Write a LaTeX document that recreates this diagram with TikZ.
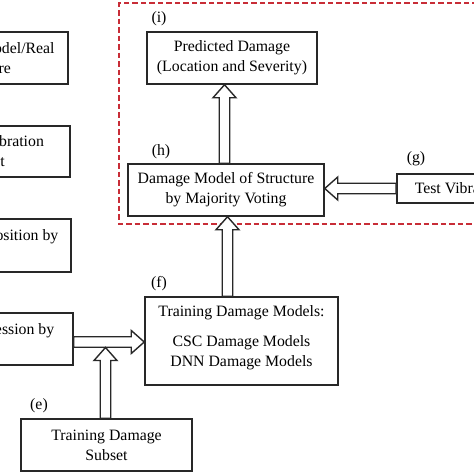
\documentclass[tikz,border=0pt]{standalone}
\usepackage{fontspec}
\setmainfont{Liberation Serif}
\usetikzlibrary{calc}
\definecolor{boxline}{RGB}{40,40,40}
\definecolor{dashred}{RGB}{200,45,55}
\tikzset{
  txt/.style={font=\fontsize{15.8}{20}\selectfont, text=black},
  box/.style={txt, draw=boxline, line width=1.5pt, align=center, inner sep=0pt, fill=white},
  lbl/.style={txt, inner sep=0pt},
  hollow/.style={draw=boxline, line width=1.4pt, fill=white, line join=miter},
  dashframe/.style={draw=dashred, line width=1.6pt, dash pattern=on 5.5pt off 3pt},
}
\newcommand\blockarrow[2]{%
  \path ($(#2)!13pt!(#1)$) coordinate (bahead);
  \draw[hollow] ($(#1)!5.25pt!90:(#2)$) -- ($(bahead)!5.25pt!90:(#2)$)
    -- ($(bahead)!11.5pt!90:(#2)$) -- (#2) -- ($(bahead)!11.5pt!-90:(#2)$)
    -- ($(bahead)!5.25pt!-90:(#2)$) -- ($(#1)!5.25pt!-90:(#2)$) -- cycle;
}
\begin{document}
\begin{tikzpicture}[x=1pt, y=-1pt]
\useasboundingbox (0,0) rectangle (474,474);
% dashed frame
\draw[dashframe] (520,3) -- (119,3) -- (119,224) -- (520,224);
% left column (cropped)
\node[box, minimum width=172pt, minimum height=52pt] (a) at (-18,58) {Numerical Model/Real\\Structure};
\node[box, minimum width=178pt, minimum height=51pt] (b) at (-19,151.5) {Measured Vibration\\Dataset};
\node[box, minimum width=186pt, minimum height=53pt] (c) at (-22,245.5) {Signal Decomposition by\\SWPT};
\node[box, minimum width=192pt, minimum height=52pt] (d) at (-23,339) {Feature Compression by\\PCA};
% main boxes
\node[box, minimum width=170pt, minimum height=52pt] (i) at (232,58) {Predicted Damage\\(Location and Severity)};
\node[box, minimum width=196pt, minimum height=52pt] (h) at (226,190) {Damage Model of Structure\\by Majority Voting};
\node[box, anchor=west, minimum height=29pt, inner xsep=18pt] (g) at (396,188.5) {Test Vibration Data};
\node[box, minimum width=193pt, minimum height=88pt] (f) at (241.5,341) {};
\node[txt, align=center, inner sep=0pt] (ftext) at (241.5,338) {Training Damage Models:\\[10pt]CSC Damage Models\\DNN Damage Models};
\node[box, minimum width=171pt, minimum height=52pt] (e) at (106.5,445) {Training Damage\\Subset};
% labels
\node[lbl] (li) at (159,19) {(i)};
\node[lbl] (lh) at (161,152) {(h)};
\node[lbl] (lg) at (416,159) {(g)};
\node[lbl] (lf) at (159,284) {(f)};
\node[lbl] (le) at (39,406) {(e)};
% connectors
\coordinate (hi1) at ($(h.north)+(-1.5,0)$);
\coordinate (hi2) at (hi1 |- i.south);
\blockarrow{hi1}{hi2}
\coordinate (gh2) at (h.east |- g.west);
\blockarrow{g.west}{gh2}
\coordinate (fh1) at ($(f.north)+(-14,0)$);
\coordinate (fh2) at (fh1 |- h.south);
\blockarrow{fh1}{fh2}
\coordinate (df1) at ($(d.east)+(0,3)$);
\coordinate (df2) at (f.west |- df1);
\blockarrow{df1}{df2}
\coordinate (ed1) at ($(e.north)+(-1,0)$);
\coordinate (ed2) at ($(ed1 |- df1)+(0,5.5)$);
\blockarrow{ed1}{ed2}
\end{tikzpicture}
\end{document}
